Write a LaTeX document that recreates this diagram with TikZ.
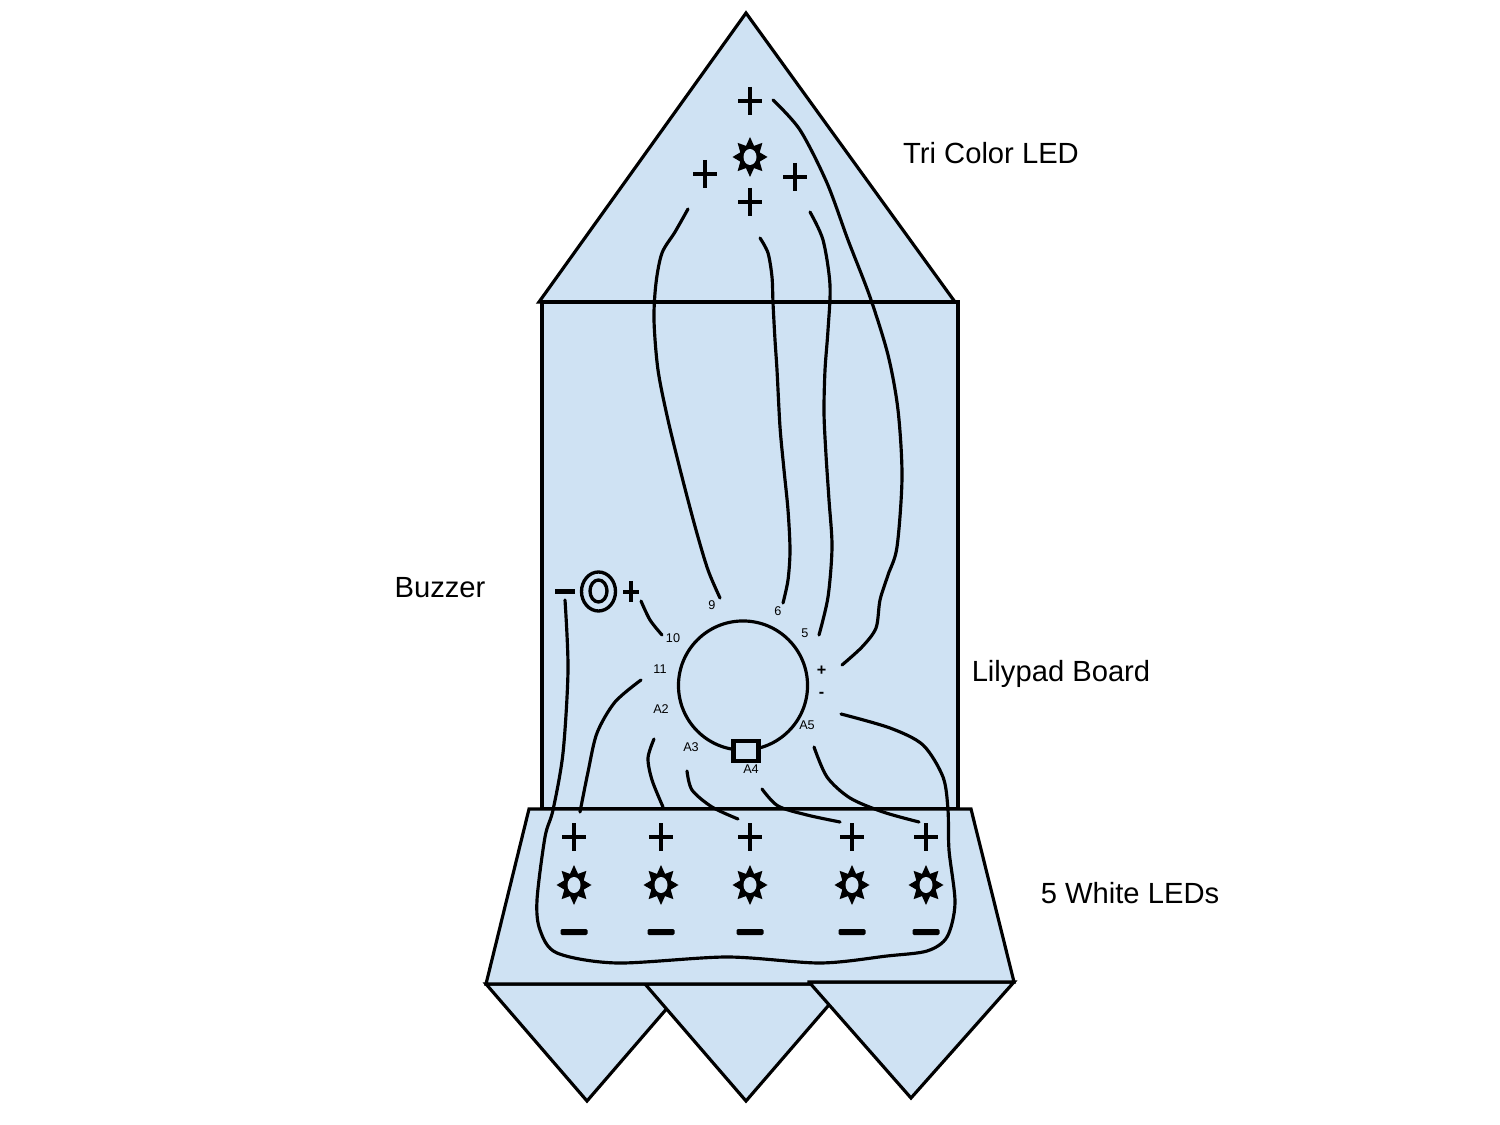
\documentclass[tikz,border=0pt]{standalone}
\usepackage{fontspec}
\setmainfont{Liberation Sans}
\definecolor{hull}{HTML}{CFE2F3}

\begin{document}
\begin{tikzpicture}[
            x=0.01cm, y=-0.01cm,
            line join=miter,
            hullpart/.style={draw, fill=hull, line width=0.9pt},
            wire/.style={line width=0.9pt, line cap=round},
            caption/.style={font=\fontsize{8.3}{10}\selectfont, inner sep=0pt, text depth=0pt},
            pinlabel/.style={font=\fontsize{3.6}{4}\selectfont, inner sep=0pt},
            pinsign/.style={font=\fontsize{4.6}{5}\selectfont\bfseries, inner sep=0pt},
            plussign/.pic={\draw[line width=0.9pt] (-11.7,0) -- (11.7,0) (0,-14) -- (0,14);},
            minussign/.pic={\fill[rounded corners=0.4pt] (-13.5,-3) rectangle (13.5,3);},
            sun/.pic={
                \fill (90:17.5 and 20) \foreach \a in {0,45,...,315} {
                    -- (112.5+\a:10.5 and 12) -- (135+\a:17.5 and 20)} -- cycle;
                \fill[hull] (0,0) ellipse (6.5 and 8);
            },
            ]
            \useasboundingbox (0,0) rectangle (1500,1125);

            % rocket
            \draw[hullpart] (746,13) -- (955,302) -- (539,302) -- cycle;
            \draw[hullpart] (542,302) rectangle (958,809);
            \draw[hullpart] (486,984) -- (688,984) -- (587,1101) -- cycle;
            \draw[hullpart] (645,984) -- (847,984) -- (746,1101) -- cycle;
            \draw[hullpart] (809,982) -- (1014,982) -- (911,1098) -- cycle;
            \draw[hullpart] (529,809) -- (971,809) -- (1014,982) -- (809,982) -- (809,984) -- (486,984) -- cycle;

            % tri color led
            \pic at (750,157) {sun};
            \pic at (750,101) {plussign};
            \pic at (705,174) {plussign};
            \pic at (795,177) {plussign};
            \pic at (750,202) {plussign};

            % white leds
            \foreach \x in {574,661,750,852,926} {
                \pic at (\x,837) {plussign};
                \pic at (\x,885) {sun};
                \pic at (\x,932) {minussign};
            }

            % buzzer
            \draw[line width=0.95pt] (598.5,591.5) ellipse (17 and 19.5);
            \draw[line width=0.95pt] (598.5,591) ellipse (8.5 and 11);
            \draw[line width=1.15pt] (555,591.5) -- (575,591.5);
            \draw[line width=1.15pt] (623,592) -- (639,592) (631,581) -- (631,602);

            % board
            \node[draw, circle, line width=0.9pt, minimum size=1.29cm, inner sep=0pt] (board) at (743,685.5) {};
            \draw[hullpart, line width=1.15pt] (733.5,741) rectangle (758.5,761);

            \node[pinlabel] (pin9) at (712,605) {9};
            \node[pinlabel] (pin6) at (778,611) {6};
            \node[pinlabel] (pin5) at (805,633) {5};
            \node[pinsign] (pinplus) at (821.5,671) {+};
            \node[pinsign] (pinminus) at (821.5,695) {-};
            \node[pinlabel] (pin10) at (673,638) {10};
            \node[pinlabel] (pin11) at (660,669) {11};
            \node[pinlabel] (pinAtwo) at (661,709) {A2};
            \node[pinlabel] (pinAthree) at (691,747) {A3};
            \node[pinlabel] (pinAfour) at (751,769) {A4};
            \node[pinlabel] (pinAfive) at (807,725) {A5};

            % wires
            \draw[wire] plot[smooth] coordinates {(688,209) (675,232) (662,253) (656,283) (654,320) (658,370) (668,420) (682,477) (696,530) (708,570) (720,598)};
            \draw[wire] plot[smooth] coordinates {(760,238) (768,253) (772,277) (773,303) (775,340) (777,370) (780,427) (784,470) (788,510) (790,550) (788,580) (783,603)};
            \draw[wire] plot[smooth] coordinates {(810,212) (823,240) (830,285) (828,330) (825,370) (824,413) (826,455) (829,500) (832,547) (828,597) (819,635)};
            \draw[wire] plot[smooth] coordinates {(773,100) (800,130) (827,183) (848,240) (870,297) (888,355) (898,410) (902,477) (897,547) (888,575) (880,600) (876,628) (862,647) (842,665)};
            \draw[wire] plot[smooth] coordinates {(641,601) (650,620) (662,635)};
            \draw[wire] plot[smooth] coordinates {(641,680) (615,702) (597,733) (588,772) (580,812)};
            \draw[wire] plot[smooth] coordinates {(654,739) (648,758) (652,780) (663,807)};
            \draw[wire] plot[smooth] coordinates {(687,771) (692,790) (712,807) (738,819)};
            \draw[wire] plot[smooth] coordinates {(762,789) (778,806) (807,815) (840,822)};
            \draw[wire] plot[smooth] coordinates {(814,747) (827,777) (850,798) (883,812) (919,822)};
            \draw[wire] plot[smooth] coordinates {(841,714) (890,728) (923,745) (943,777) (948,810) (949,850) (955,903) (947,937) (927,951) (887,956) (820,963) (727,957) (617,963) (557,953) (540,930) (537,900) (545,837) (553,810) (563,753) (568,670) (565,600)};

            % captions
            \node[caption] (tricolor) at (991,153) {Tri Color LED};
            \node[caption] (buzzer) at (440,587) {Buzzer};
            \node[caption] (lilypad) at (1061,671) {Lilypad Board};
            \node[caption] (whiteleds) at (1130,893) {5 White LEDs};
        \end{tikzpicture}
\end{document}
